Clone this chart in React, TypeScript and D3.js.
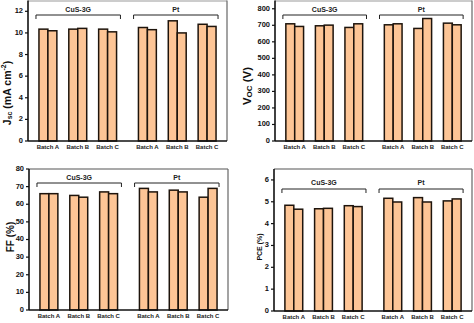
import React from "react";
import * as d3 from "d3";

const batches = ["Batch A", "Batch B", "Batch C", "Batch A", "Batch B", "Batch C"];
const groupNames = ["CuS-3G", "Pt"];

const jscBar1 = [10.35, 10.35, 10.35, 10.5, 11.12, 10.8];
const jscBar2 = [10.2, 10.42, 10.1, 10.3, 10.0, 10.6];
const vocBar1 = [709, 697, 687, 703, 681, 713];
const vocBar2 = [693, 701, 709, 709, 741, 703];
const ffBar1 = [66, 65, 67, 69, 68, 64];
const ffBar2 = [66, 64, 66, 67, 67, 69];
const pceBar1 = [4.84, 4.68, 4.82, 5.16, 5.19, 5.04];
const pceBar2 = [4.66, 4.7, 4.78, 4.99, 4.99, 5.13];

const jscTicks = [0, 2, 4, 6, 8, 10, 12];
const vocTicks = [0, 100, 200, 300, 400, 500, 600, 700, 800];
const ffTicks = [0, 10, 20, 30, 40, 50, 60, 70, 80];
const pceTicks = [0, 1, 2, 3, 4, 5, 6];

const FILL = "#FDC596";
const STROKE = "#1e140c";
const FONT = "'Liberation Sans', Arial, sans-serif";

type PanelProps = {
  left: number; right: number; top: number; bottom: number;
  ymax: number; ticks: number[]; bar1: number[]; bar2: number[];
  bracketY: number; labelY: number; topColor: string; topWidth: number;
  title: React.ReactNode; titleX: number; titleY: number; titleSize: number;
};

function Panel(p: PanelProps) {
  const pos = batches.map((_, i) => i + (i >= 3 ? 0.333 : 0));
  const x = d3.scaleLinear().domain([-0.667, 6.0]).range([p.left, p.right]);
  const y = d3.scaleLinear().domain([0, p.ymax]).range([p.bottom, p.top]);
  const bw = 0.3;
  const brackets = [
    { name: groupNames[0], a: -0.4, b: 2.43 },
    { name: groupNames[1], a: 2.87, b: 5.7 },
  ];
  return (
    <g fontFamily={FONT} fontWeight="bold">
      <line x1={p.left} x2={p.right} y1={p.top} y2={p.top} stroke={p.topColor} strokeWidth={p.topWidth} />
      <line x1={p.right} x2={p.right} y1={p.top} y2={p.bottom} stroke="#666" strokeWidth={1.2} />
      {pos.map((c, i) => (
        <g key={i}>
          <rect x={x(c - bw)} y={y(p.bar1[i])} width={x(c) - x(c - bw)} height={y(0) - y(p.bar1[i])}
            fill={FILL} stroke={STROKE} strokeWidth={1.5} />
          <rect x={x(c)} y={y(p.bar2[i])} width={x(c + bw) - x(c)} height={y(0) - y(p.bar2[i])}
            fill={FILL} stroke={STROKE} strokeWidth={1.5} />
          <text x={x(c)} y={p.bottom + 8} fontSize={6} textAnchor="middle" fill="#222">{batches[i]}</text>
        </g>
      ))}
      {brackets.map((b) => (
        <g key={b.name}>
          <path d={`M${x(b.a)},${p.top + p.bracketY + 4}V${p.top + p.bracketY}H${x(b.b)}V${p.top + p.bracketY + 4}`}
            fill="none" stroke="#222" strokeWidth={1} />
          <text x={(x(b.a) + x(b.b)) / 2} y={p.top + p.labelY} fontSize={7} textAnchor="middle"
            dominantBaseline="middle" fill="#222">{b.name}</text>
        </g>
      ))}
      <line x1={p.left} x2={p.left} y1={p.top} y2={p.bottom} stroke="#111" strokeWidth={1.6} />
      <line x1={p.left} x2={p.right} y1={p.bottom} y2={p.bottom} stroke="#111" strokeWidth={1.6} />
      {p.ticks.map((t) => (
        <g key={t}>
          <line x1={p.left - 3} x2={p.left} y1={y(t)} y2={y(t)} stroke="#111" strokeWidth={1.2} />
          <text x={p.left - 5} y={y(t)} fontSize={7.5} textAnchor="end" dominantBaseline="middle" fill="#111">{t}</text>
        </g>
      ))}
      <text transform={`translate(${p.titleX},${p.titleY}) rotate(-90)`} fontSize={p.titleSize}
        textAnchor="middle" dominantBaseline="middle" fill="#111">{p.title}</text>
    </g>
  );
}

export default function App() {
  return (
    <svg width={474} height={323} style={{ position: "absolute", left: 0, top: 0, background: "#fff" }}>
      <Panel left={28} right={227} top={0.5} bottom={141} ymax={13} ticks={jscTicks}
        bar1={jscBar1} bar2={jscBar2} bracketY={14.5} labelY={9.5} topColor="#ccc" topWidth={3}
        titleX={8} titleY={93} titleSize={10.5}
        title={<>J<tspan fontSize={7} dy={2}>sc</tspan><tspan dy={-2}> (mA cm</tspan><tspan fontSize={7} dy={-4}>-2</tspan><tspan dy={4}>)</tspan></>} />
      <Panel left={275} right={472} top={0.5} bottom={141} ymax={850} ticks={vocTicks}
        bar1={vocBar1} bar2={vocBar2} bracketY={14.5} labelY={9.5} topColor="#ccc" topWidth={3}
        titleX={248} titleY={86} titleSize={11.5}
        title={<>V<tspan fontSize={8} dy={2}>OC</tspan><tspan dy={-2}> (V)</tspan></>} />
      <Panel left={29} right={228} top={169} bottom={310} ymax={80} ticks={ffTicks}
        bar1={ffBar1} bar2={ffBar2} bracketY={14} labelY={9} topColor="#555" topWidth={1.2}
        titleX={11} titleY={237} titleSize={10}
        title={<>FF (%)</>} />
      <Panel left={274} right={472} top={169} bottom={311} ymax={6.5} ticks={pceTicks}
        bar1={pceBar1} bar2={pceBar2} bracketY={20} labelY={14} topColor="#555" topWidth={1.2}
        titleX={260} titleY={247} titleSize={7}
        title={<>PCE (%)</>} />
    </svg>
  );
}
